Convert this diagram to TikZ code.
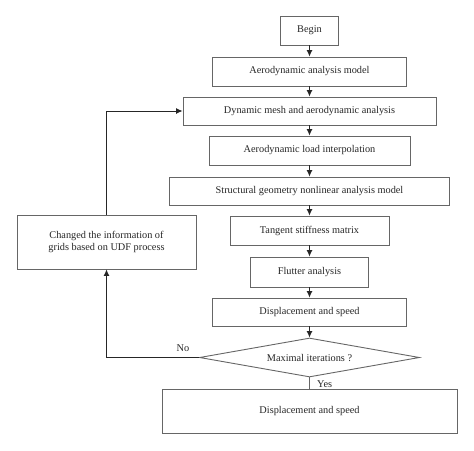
\documentclass[tikz,border=0pt]{standalone}
\usepackage{fontspec}
\setmainfont{Liberation Serif}
\usetikzlibrary{shapes.geometric,arrows.meta}
\definecolor{boxgray}{gray}{0.40}
\definecolor{txtgray}{gray}{0.15}
\begin{document}
\begin{tikzpicture}[x=1pt,y=-1pt,
  box/.style={draw=boxgray, line width=0.9pt, inner sep=0pt, align=center,
    text=txtgray, font=\fontsize{10.3}{12.6}\selectfont},
  arr/.style={draw=txtgray, line width=0.9pt, -{Latex[length=6.5pt,width=6pt]}},
  ln/.style={draw=boxgray, line width=0.9pt},
  lbl/.style={text=txtgray, font=\fontsize{10.3}{12.6}\selectfont, inner sep=0pt}]
\useasboundingbox (0,0) rectangle (474,450);
\node[box, minimum width=58pt, minimum height=29pt] (begin) at (309.5,30.5) {Begin};
\node[box, minimum width=194pt, minimum height=29pt] (aero) at (309.5,71.5) {Aerodynamic analysis model};
\node[box, minimum width=253pt, minimum height=28pt] (dyn) at (309.5,111) {Dynamic mesh and aerodynamic analysis};
\node[box, minimum width=201pt, minimum height=29pt] (load) at (309.5,150.5) {Aerodynamic load interpolation};
\node[box, minimum width=280pt, minimum height=28pt] (struct) at (309.5,191) {Structural geometry nonlinear analysis model};
\node[box, minimum width=159pt, minimum height=29pt] (tang) at (309.5,230.5) {Tangent stiffness matrix};
\node[box, minimum width=118pt, minimum height=30pt] (flut) at (309.5,272) {Flutter analysis};
\node[box, minimum width=194pt, minimum height=28pt] (disp) at (309.5,312) {Displacement and speed};
\node[box, shape=diamond, aspect=5.6, minimum width=220pt, minimum height=39pt] (dia) at (309.5,357.5) {Maximal iterations ?};
\node[box, minimum width=295pt, minimum height=44pt] (final) at (309.5,411) {Displacement and speed};
\node[box, minimum width=179pt, minimum height=54pt] (left) at (106.5,242) {Changed the information of\\grids based on UDF process};
\draw[arr] (begin) -- (aero);
\draw[arr] (aero) -- (dyn);
\draw[arr] (dyn) -- (load);
\draw[arr] (load) -- (struct);
\draw[arr] (struct) -- (tang);
\draw[arr] (tang) -- (flut);
\draw[arr] (flut) -- (disp);
\draw[arr] (disp) -- (dia);
\draw[ln] (dia.south) -- (final.north);
\draw[arr] (dia.west) -| (left.south);
\draw[arr] (left.north) |- (dyn.west);
\node[lbl, anchor=west] (yes) at (317,384) {Yes};
\node[lbl] (no) at (183,348) {No};
\end{tikzpicture}
\end{document}
